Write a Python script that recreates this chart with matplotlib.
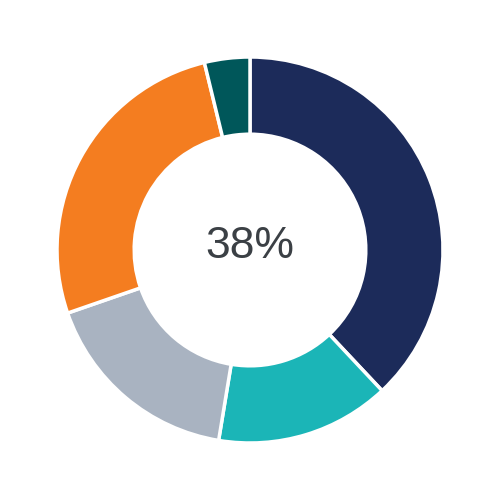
import matplotlib
matplotlib.use("Agg")
import matplotlib.pyplot as plt

labels = ["A", "B", "C", "D", "E"]
values = [38, 14.6, 17.1, 26.5, 3.8]
colors = ["#1c2b5a", "#1bb5b7", "#a9b3c1", "#f47d20", "#00575a"]
center_text = "38%"

fig = plt.figure(figsize=(5, 5), dpi=100)
ax = fig.add_axes([0, 0, 1, 1])
ax.pie(values, colors=colors, startangle=90, counterclock=False,
       radius=1.0,
       wedgeprops=dict(width=0.4, edgecolor="white", linewidth=2.5))
lim = 250 / 193
ax.set_xlim(-lim, lim)
ax.set_ylim(-lim, lim)
ax.set_aspect("equal")
ax.axis("off")
ax.text(0, 0.02, center_text, ha="center", va="center", fontsize=32,
        color="#3b4045", family="Liberation Sans")
fig.savefig("out.png", dpi=100)
